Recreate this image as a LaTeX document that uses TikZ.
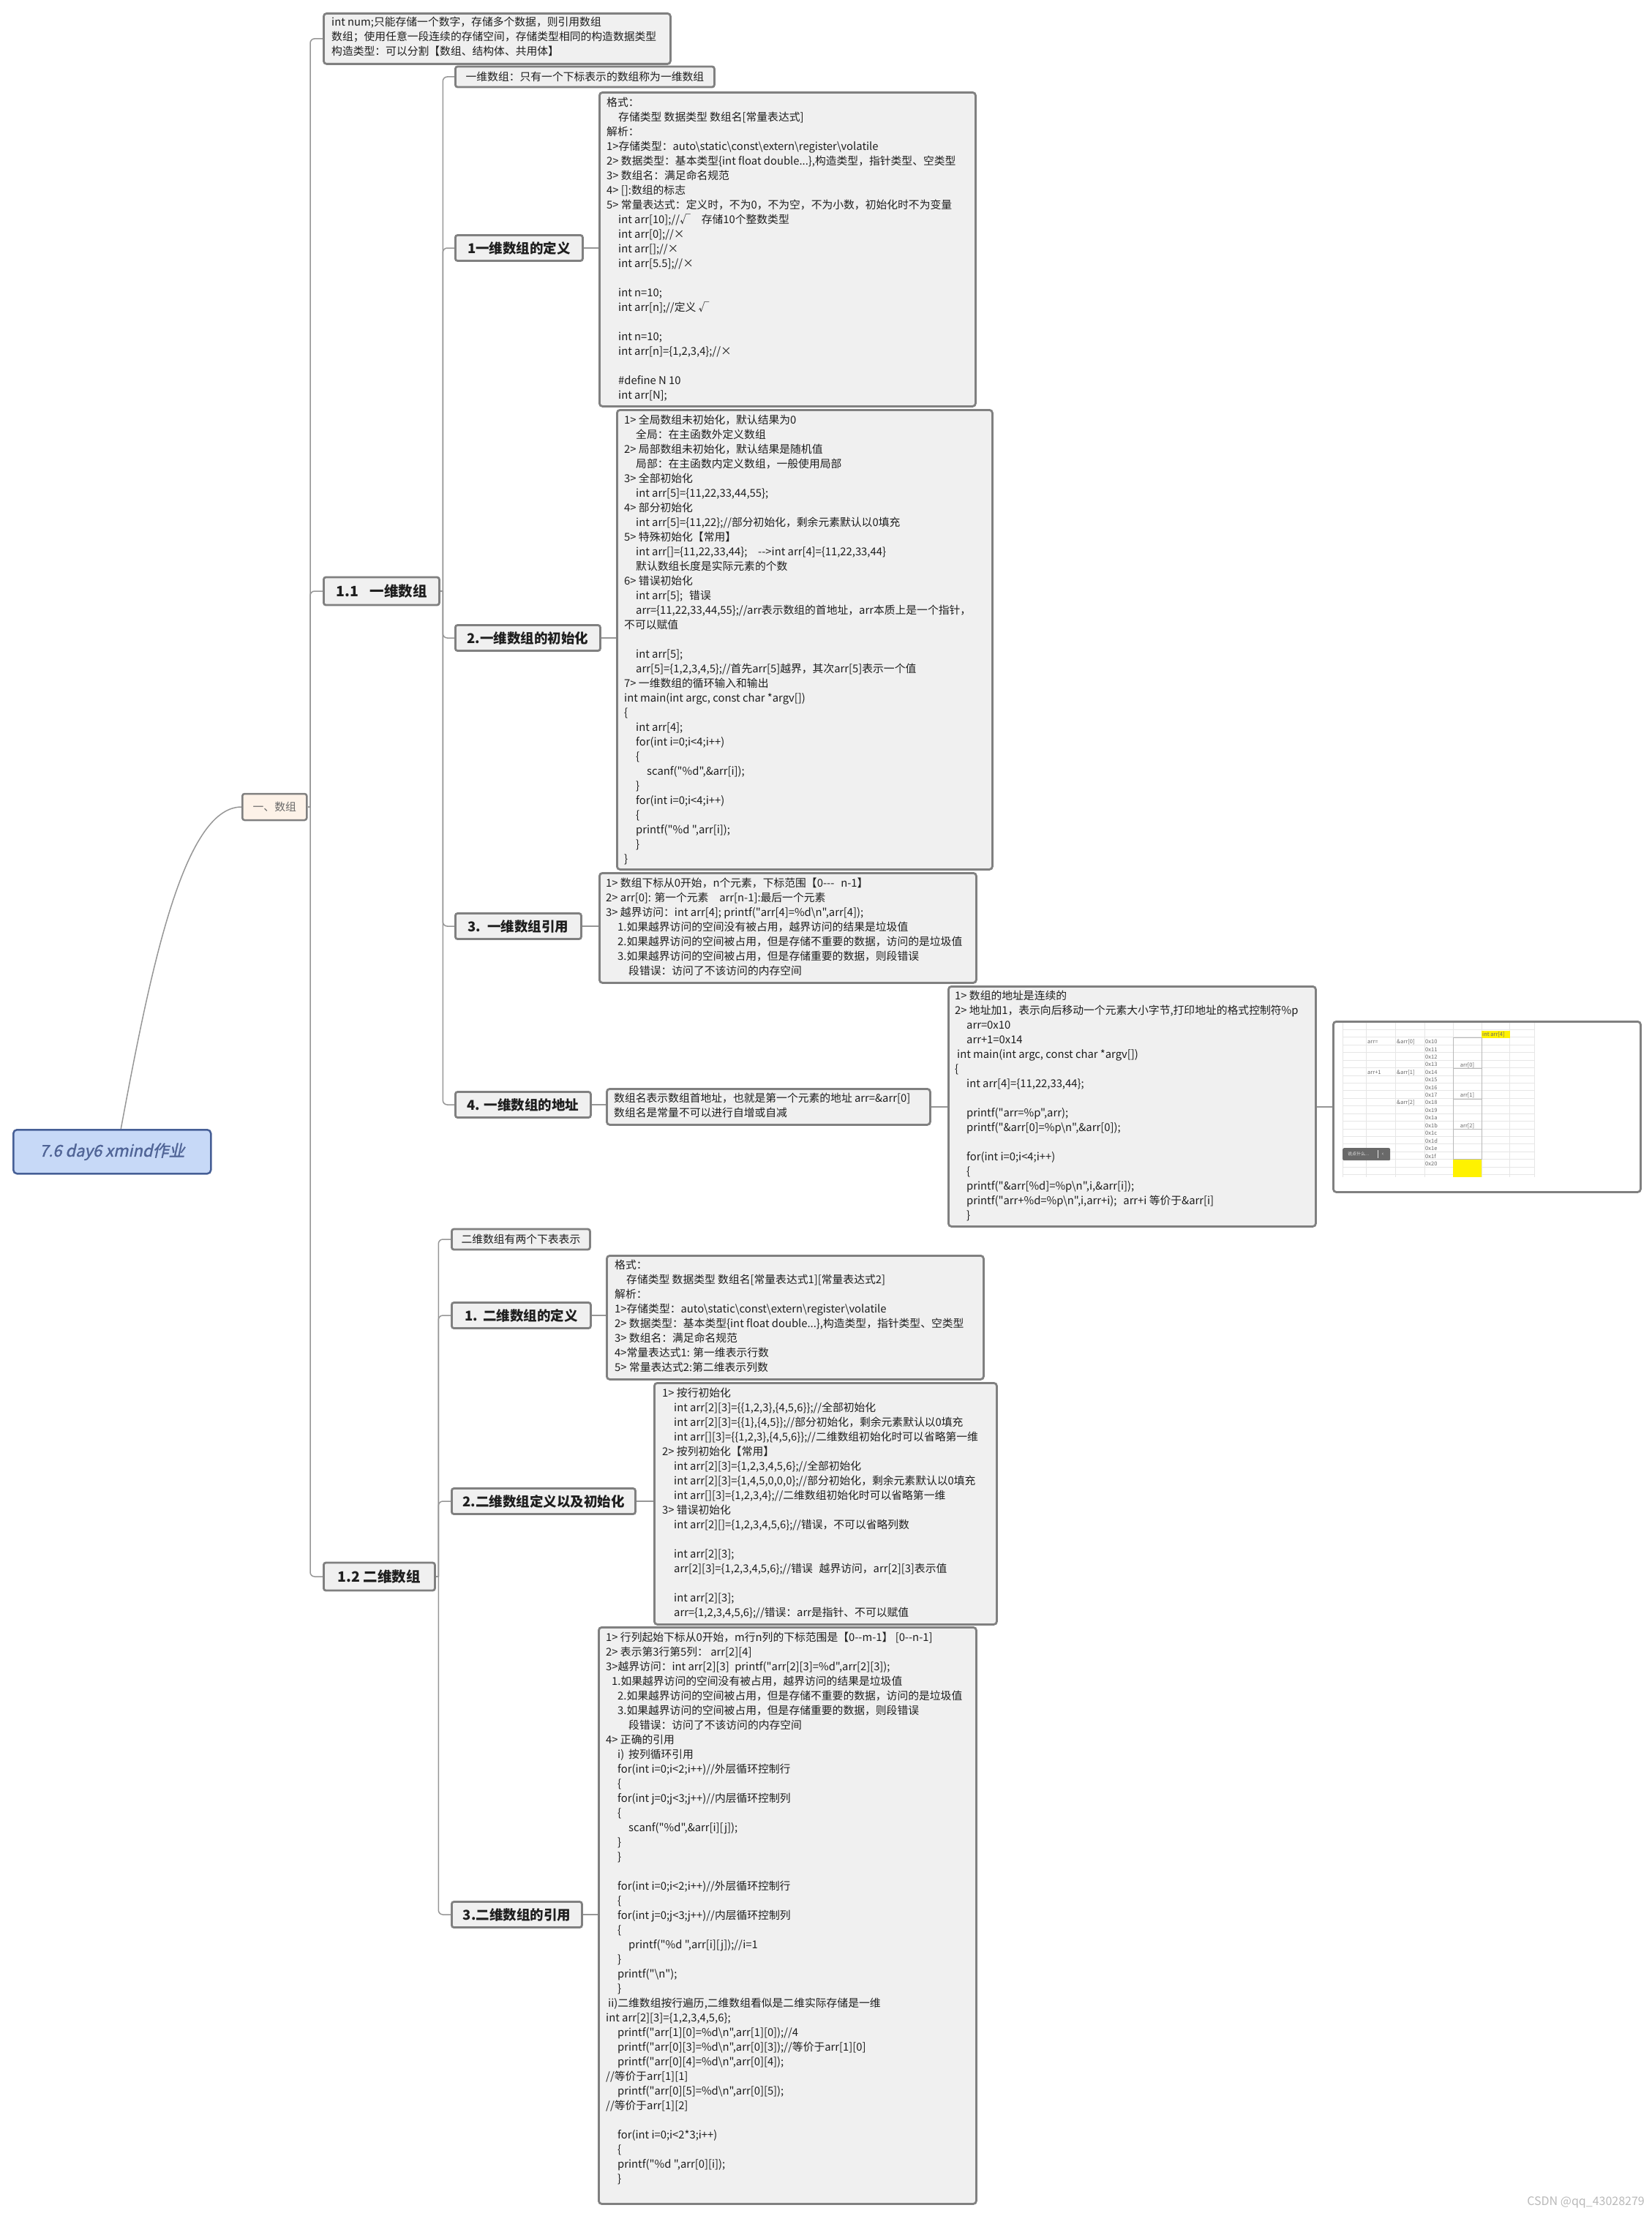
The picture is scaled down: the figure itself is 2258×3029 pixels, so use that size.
\documentclass[tikz,border=0pt]{standalone}
\usepackage{fontspec}
\usetikzlibrary{calc}
\newfontfamily\cjk{Noto Sans CJK SC}
\newfontfamily\rootfont{Noto Sans CJK SC}[FakeSlant=0.22,FakeBold=1.5]
\definecolor{boxfill}{RGB}{240,240,240}
\definecolor{boxline}{RGB}{128,128,128}
\definecolor{conncol}{RGB}{150,150,150}
\definecolor{txtcol}{RGB}{30,30,30}
\definecolor{rootfill}{RGB}{199,217,247}
\definecolor{rootline}{RGB}{70,95,150}
\definecolor{roottxt}{RGB}{80,100,150}
\definecolor{peach}{RGB}{253,242,232}
\definecolor{gridcol}{RGB}{230,230,230}
\definecolor{memline}{RGB}{185,185,185}
\definecolor{imgtxtcol}{RGB}{105,105,105}
\definecolor{widgetcol}{RGB}{105,105,105}
\definecolor{wmcol}{RGB}{185,185,185}
\newcommand\indA{\hspace*{16pt}}
\newcommand\indB{\hspace*{31pt}}
\newcommand\indS{\hspace*{8pt}}
\newcommand\indT{\hspace*{3pt}}
\newcommand\blankline{\mbox{}}
\tikzset{
 conn/.style={draw=conncol, line width=1.5pt},
 dbox/.style={draw=boxline, fill=boxfill, line width=2.8pt, rounded corners=4pt, anchor=north west, inner sep=0pt},
 dtext/.style={anchor=north west, inner sep=0pt, align=left, text=txtcol, font=\fontsize{14.8}{20}\selectfont\cjk},
 ttl/.style={draw=boxline, fill=boxfill, line width=2.8pt, rounded corners=3pt, anchor=west, inner xsep=12pt, inner ysep=0pt, minimum height=35pt, text=txtcol, font=\fontsize{18.5}{20}\selectfont\cjk\bfseries},
 ttlb/.style={ttl, minimum height=38pt, font=\fontsize{19.5}{22}\selectfont\cjk\bfseries},
 sbox/.style={ttl, minimum height=28pt, font=\fontsize{14.8}{18}\selectfont\cjk},
 imgtxt/.style={anchor=west, inner sep=0pt, text=imgtxtcol, font=\fontsize{7.5}{8}\selectfont\cjk},
}
\begin{document}
\begin{tikzpicture}[x=1pt,y=-1pt]
\useasboundingbox (0,0) rectangle (2258,3029);

% ---------- root and first level ----------
\node[draw=rootline, fill=rootfill, line width=2.5pt, rounded corners=5pt, anchor=north west,
      minimum width=270pt, minimum height=60pt, inner sep=0pt, text=roottxt,
      font=\fontsize{22}{26}\selectfont\rootfont] (root) at (17,1543) {7.6 day6 xmind作业};
\node[draw=boxline, fill=peach, line width=2.5pt, rounded corners=3pt, anchor=west,
      minimum width=88pt, minimum height=36pt, inner sep=0pt, text=imgtxtcol,
      font=\fontsize{14.8}{18}\selectfont\cjk] (yishu) at (330,1103) {一、数组};

\node[dbox, minimum width=474pt, minimum height=69pt] (top) at (441,17) {};
\node[dtext] (toptxt) at ($(top.north west)+(12,4)$) {\strut int num;只能存储一个数字，存储多个数据，则引用数组\\
数组；使用任意一段连续的存储空间，存储类型相同的构造数据类型\\
构造类型：可以分割【数组、结构体、共用体】};

\node[ttlb, minimum width=158pt] (n11) at (441,808) {1.1\hspace{0.8em}一维数组};
\node[ttlb, minimum width=152pt] (n12) at (441,2155) {1.2 二维数组};

% ---------- 1.1 children ----------
\node[sbox, minimum width=354pt] (s11) at (621,105) {一维数组：只有一个下标表示的数组称为一维数组};
\node[ttl, minimum width=174pt] (def1t) at (621,339) {1一维数组的定义};
\node[ttl, minimum width=198pt] (init1t) at (621,872) {2.一维数组的初始化};
\node[ttl, minimum width=172pt] (ref1t) at (621,1266) {3.\hspace{0.5em}一维数组引用};
\node[ttl, minimum width=185pt] (addr1t) at (621,1510) {4. 一维数组的地址};

% ---------- 1.2 children ----------
\node[sbox, minimum width=189pt] (s12) at (616,1694) {二维数组有两个下表表示};
\node[ttl, minimum width=190pt] (def2t) at (616,1798) {1.\hspace{0.4em}二维数组的定义};
\node[ttl, minimum width=251pt] (init2t) at (616,2052) {2.二维数组定义以及初始化};
\node[ttl, minimum width=178pt] (ref2t) at (616,2617) {3.二维数组的引用};

% ---------- detail boxes ----------
\node[dbox, minimum width=514pt, minimum height=429pt] (def1) at (818,125) {};
\node[dtext] (def1txt) at ($(def1.north west)+(11,6)$) {\strut 格式：\\
\indA 存储类型 数据类型 数组名[常量表达式]\\
解析：\\
1>存储类型：auto\textbackslash static\textbackslash const\textbackslash extern\textbackslash register\textbackslash volatile\\
2> 数据类型：基本类型\{int float double...\},构造类型，指针类型、空类型\\
3> 数组名：满足命名规范\\
4> []:数组的标志\\
5> 常量表达式：定义时，不为0，不为空，不为小数，初始化时不为变量\\
\indA int arr[10];//√\hspace{1em}存储10个整数类型\\
\indA int arr[0];//×\\
\indA int arr[];//×\\
\indA int arr[5.5];//×\\
\blankline\\
\indA int n=10;\\
\indA int arr[n];//定义 √\\
\blankline\\
\indA int n=10;\\
\indA int arr[n]=\{1,2,3,4\};//×\\
\blankline\\
\indA \#define N 10\\
\indA int arr[N];};

\node[dbox, minimum width=513pt, minimum height=628pt] (init1) at (842,559) {};
\node[dtext] (init1txt) at ($(init1.north west)+(11,6)$) {\strut 1> 全局数组未初始化，默认结果为0\\
\indA 全局：在主函数外定义数组\\
2> 局部数组未初始化，默认结果是随机值\\
\indA 局部：在主函数内定义数组，一般使用局部\\
3> 全部初始化\\
\indA int arr[5]=\{11,22,33,44,55\};\\
4> 部分初始化\\
\indA int arr[5]=\{11,22\};//部分初始化，剩余元素默认以0填充\\
5> 特殊初始化【常用】\\
\indA int arr[]=\{11,22,33,44\};\hspace{1em}-{}->int arr[4]=\{11,22,33,44\}\\
\indA 默认数组长度是实际元素的个数\\
6> 错误初始化\\
\indA int arr[5];\hspace{0.6em}错误\\
\indA arr=\{11,22,33,44,55\};//arr表示数组的首地址，arr本质上是一个指针，\\
不可以赋值\\
\blankline\\
\indA int arr[5];\\
\indA arr[5]=\{1,2,3,4,5\};//首先arr[5]越界，其次arr[5]表示一个值\\
7> 一维数组的循环输入和输出\\
int main(int argc, const char *argv[])\\
\{\\
\indA int arr[4];\\
\indA for(int i=0;i<4;i++)\\
\indA \{\\
\indB scanf("\%d",\&arr[i]);\\
\indA \}\\
\indA for(int i=0;i<4;i++)\\
\indA \{\\
\indA printf("\%d ",arr[i]);\\
\indA \}\\
\}};

\node[dbox, minimum width=515pt, minimum height=150pt] (ref1) at (818,1192) {};
\node[dtext] (ref1txt) at ($(ref1.north west)+(10,6)$) {\strut 1> 数组下标从0开始，n个元素，下标范围【0-{}-{}-\hspace{0.6em}n-1】\\
2> arr[0]: 第一个元素\hspace{1em}arr[n-1]:最后一个元素\\
3> 越界访问：int arr[4]; printf("arr[4]=\%d\textbackslash n",arr[4]);\\
\indA 1.如果越界访问的空间没有被占用，越界访问的结果是垃圾值\\
\indA 2.如果越界访问的空间被占用，但是存储不重要的数据，访问的是垃圾值\\
\indA 3.如果越界访问的空间被占用，但是存储重要的数据，则段错误\\
\indB 段错误：访问了不该访问的内存空间};

\node[dbox, minimum width=442pt, minimum height=49pt] (addr1) at (828,1487) {};
\node[dtext] (addr1txt) at ($(addr1.north west)+(11,5)$) {\strut 数组名表示数组首地址，也就是第一个元素的地址 arr=\&arr[0]\\
数组名是常量不可以进行自增或自减};

\node[dbox, minimum width=502pt, minimum height=328pt] (addr2) at (1295,1347) {};
\node[dtext] (addr2txt) at ($(addr2.north west)+(10,5)$) {\strut 1> 数组的地址是连续的\\
2> 地址加1，表示向后移动一个元素大小字节,打印地址的格式控制符\%p\\
\indA arr=0x10\\
\indA arr+1=0x14\\
\indT int main(int argc, const char *argv[])\\
\{\\
\indA int arr[4]=\{11,22,33,44\};\\
\blankline\\
\indA printf("arr=\%p",arr);\\
\indA printf("\&arr[0]=\%p\textbackslash n",\&arr[0]);\\
\blankline\\
\indA for(int i=0;i<4;i++)\\
\indA \{\\
\indA printf("\&arr[\%d]=\%p\textbackslash n",i,\&arr[i]);\\
\indA printf("arr+\%d=\%p\textbackslash n",i,arr+i);\hspace{0.6em}arr+i 等价于\&arr[i]\\
\indA \}};

% ---------- picture (spreadsheet screenshot) ----------
\node[draw=boxline, fill=white, line width=2.8pt, rounded corners=4pt, anchor=north west,
      minimum width=420pt, minimum height=233pt, inner sep=0pt] (img) at (1821,1395) {};
\foreach \x in {1835,1867,1907,1947,1986,2025,2063,2097}
  \draw[gridcol, line width=0.7pt] (\x,1398) -- (\x,1609);
\foreach \k in {0,...,19}
  \draw[gridcol, line width=0.7pt] (1835,{1407.3+10.43*\k}) -- (2097,{1407.3+10.43*\k});
\fill[yellow] (1986,1585) rectangle (2025,1609);
\fill[yellow] (2025,1409) rectangle (2064,1419);
\draw[memline, line width=0.8pt] (1986,1418) rectangle (2025,1584);
\foreach \yy in {1460,1502,1543}
  \draw[memline, line width=0.8pt] (1986,\yy) -- (2025,\yy);
\node[imgtxt] (lblint) at (2026,1414) {int arr[4]};
\node[imgtxt] (lblarr) at (1869,1424) {arr=};
\node[imgtxt] (lbla0) at (1909,1424) {\&arr[0]};
\node[imgtxt] (lblarr1) at (1869,1466) {arr+1};
\node[imgtxt] (lbla1) at (1909,1466) {\&arr[1]};
\node[imgtxt] (lbla2) at (1909,1507) {\&arr[2]};
\foreach \k/\lab in {0/0x10,1/0x11,2/0x12,3/0x13,4/0x14,5/0x15,6/0x16,7/0x17,8/0x18,9/0x19,10/0x1a,11/0x1b,12/0x1c,13/0x1d,14/0x1e,15/0x1f,16/0x20}
  \node[imgtxt] (hex\k) at (1948,{1424+10.4*\k}) {\lab};
\node[imgtxt, anchor=center] (m0) at (2005.5,1456) {arr[0]};
\node[imgtxt, anchor=center] (m1) at (2005.5,1497) {arr[1]};
\node[imgtxt, anchor=center] (m2) at (2005.5,1539) {arr[2]};
\node[fill=widgetcol, rounded corners=2pt, anchor=north west, minimum width=65pt, minimum height=17pt, inner sep=0pt] (widget) at (1835,1569) {};
\node[imgtxt, text=gridcol, font=\fontsize{6}{7}\selectfont\cjk] (wtxt) at (1842,1577.5) {说点什么...};
\draw[gridcol, line width=0.6pt] (1883,1572) -- (1883,1583);
\node[imgtxt, text=white, font=\fontsize{7}{7}\selectfont\cjk] (warr) at (1889,1577.5) {‹};

% ---------- 2-D detail boxes ----------
\node[dbox, minimum width=515pt, minimum height=169pt] (def2) at (828,1715) {};
\node[dtext] (def2txt) at ($(def2.north west)+(12,5)$) {\strut 格式：\\
\indA 存储类型 数据类型 数组名[常量表达式1][常量表达式2]\\
解析：\\
1>存储类型：auto\textbackslash static\textbackslash const\textbackslash extern\textbackslash register\textbackslash volatile\\
2> 数据类型：基本类型\{int float double...\},构造类型，指针类型、空类型\\
3> 数组名：满足命名规范\\
4>常量表达式1: 第一维表示行数\\
5> 常量表达式2:第二维表示列数};

\node[dbox, minimum width=468pt, minimum height=330pt] (init2) at (893,1889) {};
\node[dtext] (init2txt) at ($(init2.north west)+(12,6)$) {\strut 1> 按行初始化\\
\indA int arr[2][3]=\{\{1,2,3\},\{4,5,6\}\};//全部初始化\\
\indA int arr[2][3]=\{\{1\},\{4,5\}\};//部分初始化，剩余元素默认以0填充\\
\indA int arr[][3]=\{\{1,2,3\},\{4,5,6\}\};//二维数组初始化时可以省略第一维\\
2> 按列初始化【常用】\\
\indA int arr[2][3]=\{1,2,3,4,5,6\};//全部初始化\\
\indA int arr[2][3]=\{1,4,5,0,0,0\};//部分初始化，剩余元素默认以0填充\\
\indA int arr[][3]=\{1,2,3,4\};//二维数组初始化时可以省略第一维\\
3> 错误初始化\\
\indA int arr[2][]=\{1,2,3,4,5,6\};//错误，不可以省略列数\\
\blankline\\
\indA int arr[2][3];\\
\indA arr[2][3]=\{1,2,3,4,5,6\};//错误\hspace{0.6em}越界访问，arr[2][3]表示值\\
\blankline\\
\indA int arr[2][3];\\
\indA arr=\{1,2,3,4,5,6\};//错误：arr是指针、不可以赋值};

\node[dbox, minimum width=516pt, minimum height=788pt] (ref2) at (817,2223) {};
\node[dtext] (ref2txt) at ($(ref2.north west)+(11,6)$) {\strut 1> 行列起始下标从0开始，m行n列的下标范围是【0-{}-m-1】 [0-{}-n-1]\\
2> 表示第3行第5列： arr[2][4]\\
3>越界访问：int arr[2][3]\hspace{0.5em}printf("arr[2][3]=\%d",arr[2][3]);\\
\indS 1.如果越界访问的空间没有被占用，越界访问的结果是垃圾值\\
\indA 2.如果越界访问的空间被占用，但是存储不重要的数据，访问的是垃圾值\\
\indA 3.如果越界访问的空间被占用，但是存储重要的数据，则段错误\\
\indB 段错误：访问了不该访问的内存空间\\
4> 正确的引用\\
\indA i)\hspace{0.4em}按列循环引用\\
\indA for(int i=0;i<2;i++)//外层循环控制行\\
\indA \{\\
\indA for(int j=0;j<3;j++)//内层循环控制列\\
\indA \{\\
\indB scanf("\%d",\&arr[i][j]);\\
\indA \}\\
\indA \}\\
\blankline\\
\indA for(int i=0;i<2;i++)//外层循环控制行\\
\indA \{\\
\indA for(int j=0;j<3;j++)//内层循环控制列\\
\indA \{\\
\indB printf("\%d ",arr[i][j]);//i=1\\
\indA \}\\
\indA printf("\textbackslash n");\\
\indA \}\\
\indT ii)二维数组按行遍历,二维数组看似是二维实际存储是一维\\
int arr[2][3]=\{1,2,3,4,5,6\};\\
\indA printf("arr[1][0]=\%d\textbackslash n",arr[1][0]);//4\\
\indA printf("arr[0][3]=\%d\textbackslash n",arr[0][3]);//等价于arr[1][0]\\
\indA printf("arr[0][4]=\%d\textbackslash n",arr[0][4]);\\
//等价于arr[1][1]\\
\indA printf("arr[0][5]=\%d\textbackslash n",arr[0][5]);\\
//等价于arr[1][2]\\
\blankline\\
\indA for(int i=0;i<2*3;i++)\\
\indA \{\\
\indA printf("\%d ",arr[0][i]);\\
\indA \}};

% ---------- watermark ----------
\node[anchor=east, inner sep=0pt, text=wmcol, font=\fontsize{16}{18}\selectfont\cjk] (wm) at (2248,3010) {CSDN @qq\_43028279};

% ---------- connectors ----------
\draw[conn] ([xshift=12pt]root.north) .. controls (205,1330) and (250,1103) .. (yishu.west);
\draw[conn] (yishu.east) -- ++(3.5,0);
\foreach \c in {top,n11,n12}
  \draw[conn, rounded corners=6pt] (yishu.east) ++(3.5,0) |- (\c.west);
\draw[conn] (n11.east) -- ++(3.5,0);
\foreach \c in {s11,def1t,init1t,ref1t,addr1t}
  \draw[conn, rounded corners=6pt] (n11.east) ++(3.5,0) |- (\c.west);
\draw[conn] (n12.east) -- ++(3.5,0);
\foreach \c in {s12,def2t,init2t,ref2t}
  \draw[conn, rounded corners=6pt] (n12.east) ++(3.5,0) |- (\c.west);
\draw[conn] (def1t.east) -- (def1t.east -| def1.west);
\draw[conn] (init1t.east) -- (init1t.east -| init1.west);
\draw[conn] (ref1t.east) -- (ref1t.east -| ref1.west);
\draw[conn] (addr1t.east) -- (addr1t.east -| addr1.west);
\draw[conn] (addr1.east) -- (addr1.east -| addr2.west);
\draw[conn] (addr2.east |- addr1.east) -- (addr1.east -| img.west);
\draw[conn] (def2t.east) -- (def2t.east -| def2.west);
\draw[conn] (init2t.east) -- (init2t.east -| init2.west);
\draw[conn] (ref2t.east) -- (ref2t.east -| ref2.west);
\end{tikzpicture}
\end{document}
